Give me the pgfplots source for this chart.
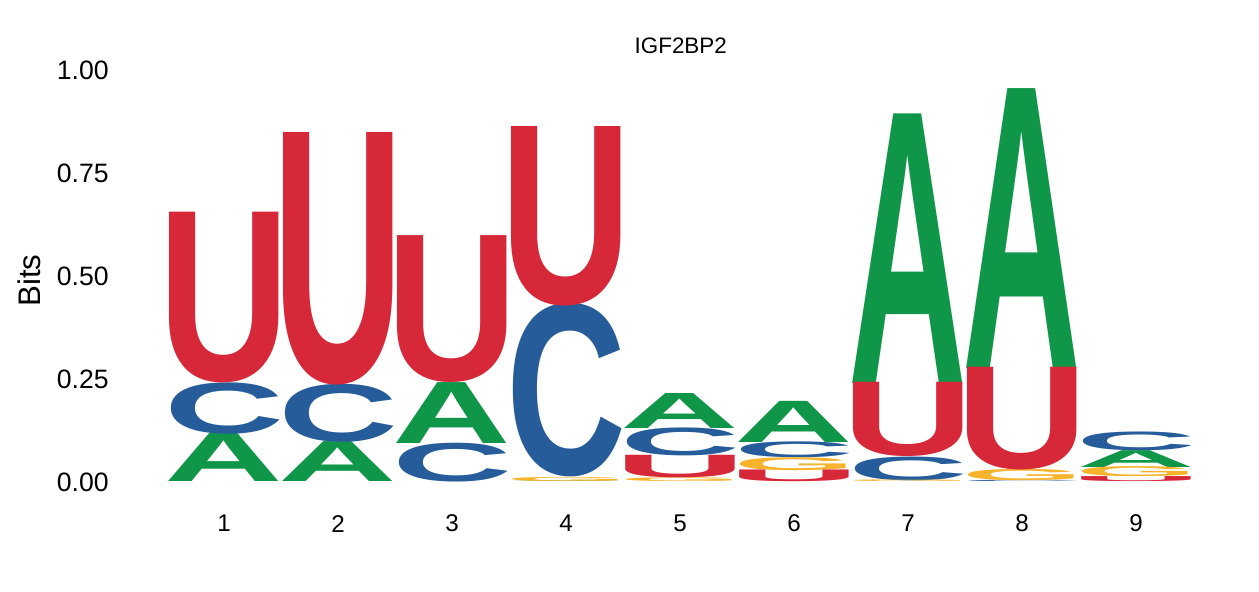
\documentclass[border=0pt]{standalone}
\usepackage{fontspec}
\setmainfont{Liberation Sans}
\usepackage{graphicx}
\usepackage{pgfplots}
\usepackage{pgfplotstable}
\pgfplotsset{compat=1.18}

\definecolor{colA}{HTML}{109648}
\definecolor{colC}{HTML}{255C99}
\definecolor{colG}{HTML}{F7B32B}
\definecolor{colU}{HTML}{D62839}

% x = position, y = bottom of the letter (bits), h = letter height (bits)
\pgfplotstableread{
x y h
1 0.000 0.117
2 0.000 0.097
3 0.093 0.148
4 0.000 0.002
5 0.130 0.085
6 0.097 0.100
7 0.239 0.655
8 0.276 0.680
9 0.036 0.041
}\dataA
\pgfplotstableread{
x y h
1 0.117 0.123
2 0.097 0.139
3 0.000 0.093
4 0.012 0.416
5 0.063 0.067
6 0.059 0.038
7 0.004 0.057
8 0.000 0.003
9 0.077 0.045
}\dataC
\pgfplotstableread{
x y h
4 0.002 0.010
5 0.000 0.009
6 0.028 0.031
7 0.000 0.004
8 0.003 0.027
9 0.012 0.024
}\dataG
\pgfplotstableread{
x y h
1 0.240 0.409
2 0.236 0.605
3 0.241 0.352
4 0.428 0.430
5 0.009 0.054
6 0.000 0.028
7 0.061 0.178
8 0.030 0.246
9 0.000 0.012
}\dataU

% letter stretched to 55pt wide and h bits high (y unit = 205.8pt)
\newcommand\logoletter[4]{%
  \pgfmathsetlengthmacro\lh{max(#4*205.8,0.05)}%
  \resizebox{55pt}{\lh}{\bfseries\fontsize{40}{40}\selectfont\kern-#2em #1\kern-#3em}}

\pgfplotsset{
  logo/.style n args={4}{scatter, only marks, mark=*, mark size=0pt,
    mark options={draw=none, fill=none},
    visualization depends on={\thisrow{h}\as\hv},
    scatter/@pre marker code/.code={%
      \node[inner sep=0pt, outer sep=0pt, anchor=south, text=#1] at (0pt,0pt)
        {\logoletter{#2}{#3}{#4}{\hv}};},
    scatter/@post marker code/.code={}},
}

\begin{document}
\begin{tikzpicture}
\begin{axis}[
  x=57pt, y=205.8pt,
  xmin=-0.965, xmax=10.079,
  ymin=-0.2672, ymax=1.1710,
  axis line style={draw=none},
  tick style={draw=none},
  /pgf/number format/assume math mode=true,
  xtick={1,2,3,4,5,6,7,8,9},
  ytick={0,0.25,0.5,0.75,1},
  yticklabel style={/pgf/number format/fixed,
    /pgf/number format/fixed zerofill,
    /pgf/number format/precision=2,
    anchor=east, inner sep=0pt, xshift=54.5pt,
    font=\fontsize{13.3}{16}\selectfont},
  xticklabel style={anchor=center, inner sep=0pt, yshift=34.15pt,
    font=\fontsize{12.1}{14}\selectfont},
  title={IGF2BP2},
  title style={at={(rel axis cs:0.5407,0.9032)}, anchor=center,
    inner sep=0pt, font=\fontsize{11.2}{13}\selectfont},
  ylabel={Bits},
  ylabel style={at={(rel axis cs:0.02343,0.5262)}, anchor=center,
    inner sep=0pt, font=\fontsize{15.6}{18}\selectfont},
]
\addplot[logo={colA}{A}{0.026}{0.026}] table {\dataA};
\addplot[logo={colC}{C}{0.03}{0.03}] table {\dataC};
\addplot[logo={colG}{G}{0.035}{0.04}] table {\dataG};
\addplot[logo={colU}{U}{0.059}{0.059}] table {\dataU};
\end{axis}
\end{tikzpicture}
\end{document}
